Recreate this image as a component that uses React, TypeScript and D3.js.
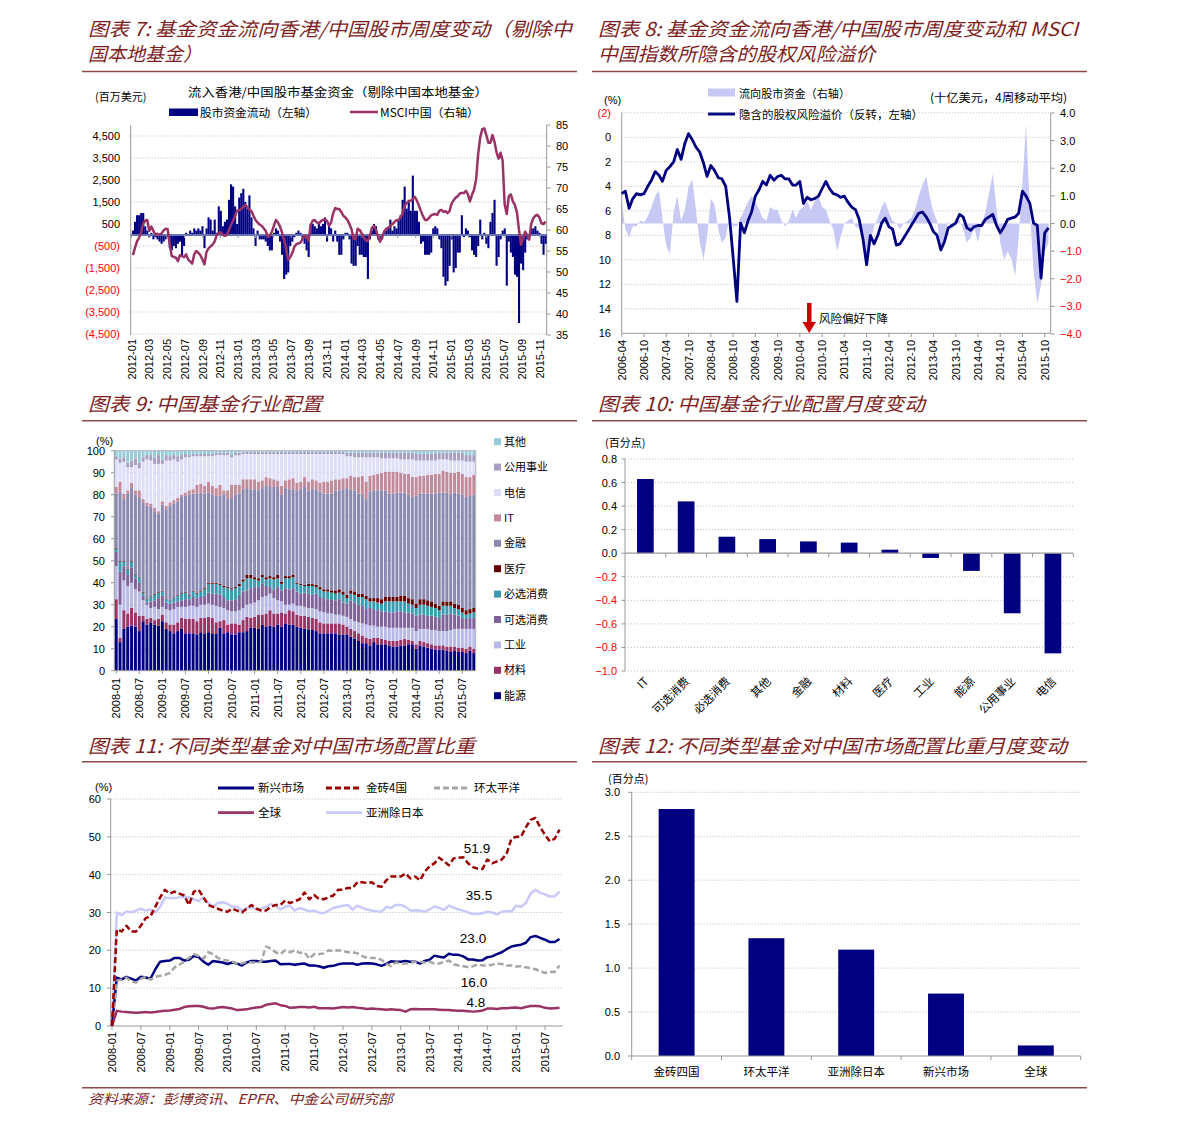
import React from 'react';
import * as d3 from 'd3';

// ---------------- fonts / styles ----------------
const FONT_NUM = '"Liberation Sans", Arial, sans-serif';
const FONT_CJK = '"Noto Sans CJK SC", "Noto Sans", sans-serif';
const TITLE_COLOR = '#7d1e1e';
const RULE_COLOR = '#8c4a4a';
const GRID = '#a8a8a8';
const AXIS = '#999999';
const NEG = '#ff0000';

// ---------------- Panel 7 data (weekly, from 2012-01-06) ----------------
const P7_FLOWS = [
  200, 600, 900, 900, 1000, 1000, 400, 200, -100, 100,
  -200, -100, -200, -300, -400, -300, -200, -100, -600, -700,
  -500, -600, -400, -300, -1000, -500, 100, 0, 200, 100,
  300, 200, 300, 200, 400, -600, 300, 800, 700, 200,
  700, 100, 1300, 1100, 400, 600, 700, 1600, 2300, 2200,
  1300, 500, 1700, 1900, 2100, 1500, 1200, 1800, 800, 300,
  -500, 200, -200, -200, -200, -300, -500, -700, -700, 100,
  300, 200, -300, -900, -2000, -1800, -1700, -500, -300, -100,
  100, 200, 100, -200, -400, -700, -1000, 500, 500, 400,
  300, 500, 400, 500, 800, -300, 400, 300, -300, 200,
  -300,
  -900, -900, -200, 100, 100, -200, -1300, -1400, -1400, -500,
  -900, -900, -1000, -1000, -2000, -200, 200, 500, 400, -200,
  -300, -200, 200, 200, 300, 700, 200, 400, 300, 700,
  900, 1600, 2200, 1200, 1600, 1100, 2700, 1100, 1100, 600,
  -400, -300, -900, -900, -900, -800, 300, 400, 300, -200,
  -600, -1900, -2300, -2100, -1400, -200, -1700, -1500, -800, -800,
  900, -100, 300, 200, -100, -700, -900, -1000, -500, 700,
  -200, 100, -400, -600, 600, 1000, 1600, -1400, -1000, -200,
  200, 300, -2300, -300, -800, -1000, -1800, -1900, -4000, -1300,
  -1600, -800, -200, -100, 300, 300, 400, 200, 100, -400,
  -900, -400,
];
const P7_MSCI = [
  54.0, 55.8, 57.3, 58.2, 59.5, 61.5, 62.2, 62.4, 59.8, 60.8,
  59.8, 58.9, 59.1, 58.8, 59.2, 59.9, 60.3, 60.2, 56.5, 53.8,
  53.6, 53.4, 52.6, 54.0, 53.8, 53.5, 54.2, 53.0, 52.5, 52.0,
  54.2, 55.0, 54.6, 54.0, 53.0, 51.8, 54.8, 55.6, 56.1, 56.5,
  57.3, 58.8, 59.3, 59.5, 58.8, 58.6, 58.8, 60.0, 61.2, 62.2,
  63.4, 64.6, 64.7, 65.0, 65.5, 66.0, 65.4, 64.8, 64.5, 63.4,
  62.4, 61.8, 61.3, 61.0, 60.4, 59.8, 58.4, 58.6, 59.6, 61.0,
  62.4, 61.8, 60.8, 59.4, 57.6, 55.5, 52.9, 53.5, 54.5, 56.0,
  56.6, 56.8, 57.0, 57.8, 58.6, 58.4, 57.4, 61.2, 62.2, 62.4,
  61.8, 61.6, 62.1, 62.4, 62.5, 62.2, 61.0, 61.8, 64.0, 65.2,
  65.0,
  65.0, 64.3, 63.4, 63.0, 62.4, 61.4, 60.2, 58.0, 57.8, 60.3,
  60.0, 59.2, 58.3, 57.5, 57.4, 58.6, 60.5, 61.0, 60.0, 58.4,
  57.2, 58.4, 59.6, 60.3, 60.6, 60.9, 61.4, 61.9, 62.3, 62.4,
  63.0, 64.0, 65.8, 66.4, 66.8, 67.0, 67.4, 67.9, 67.0, 65.8,
  64.5, 63.3, 62.4, 62.4, 62.9, 63.5, 63.7, 63.8, 63.6, 64.6,
  64.8, 64.3, 64.5, 64.0, 64.5, 66.3, 67.1, 67.7, 68.0, 68.7,
  68.8, 68.8, 69.3, 68.5, 66.8, 68.4, 69.6, 72.0, 78.0, 82.0,
  84.0, 84.2, 82.6, 80.8, 80.8, 82.6, 81.0, 78.5, 77.0, 78.4,
  76.5, 66.0, 63.8, 68.0, 68.5, 66.8, 66.0, 64.2, 60.0, 56.5,
  58.0, 59.6, 58.8, 57.7, 61.5, 62.8, 63.4, 63.6, 63.0, 61.6,
  61.4, 62.0,
];
const P7_LEFT_TICKS = [4500, 3500, 2500, 1500, 500, -500, -1500, -2500, -3500, -4500];
const P7_RIGHT_TICKS = [85, 80, 75, 70, 65, 60, 55, 50, 45, 40, 35];

// ---------------- Panel 8 data (monthly, from 2006-04) ----------------
const P8_PREMIUM = [
  4.6, 4.4, 5.8, 5.0, 4.6, 4.7, 4.6, 4.0, 3.5, 2.8,
  3.1, 3.6, 2.7, 2.4, 2.0, 1.0, 1.8, 0.5, -0.3, 0.2,
  0.8, 1.2, 2.1, 3.2, 2.3, 2.7, 3.3, 3.4, 4.0, 6.5,
  9.8, 13.4, 7.0, 7.8, 6.8, 6.1, 4.8, 4.3, 3.6, 3.9,
  3.1, 3.5, 3.2, 3.1, 3.4, 3.4, 3.9, 3.9, 3.6, 5.4,
  4.9, 5.1, 5.0, 4.8, 4.2, 3.6, 4.2, 4.6, 4.7, 4.9,
  4.8, 5.3, 5.7, 5.9, 6.7, 8.3, 10.4, 8.0, 8.7, 8.0,
  7.0, 6.6, 7.3, 7.5, 8.8, 8.7, 8.2, 7.7, 7.2, 6.7,
  6.2, 6.1, 6.5, 7.0, 7.7, 8.0, 9.2, 8.5, 7.4, 7.2,
  7.0, 6.3, 6.5, 7.4, 7.6, 7.3, 7.2, 7.2, 6.7, 6.5,
  6.3, 7.2, 7.8, 7.3, 6.7, 6.6, 6.5, 6.2, 4.4, 4.8,
  5.4, 7.0, 7.2, 11.5, 7.8, 7.4,
];
const P8_FLOWS = [
  0.8, -0.2, -0.5, -0.1, -0.1, 0.1, 0.05, 0.25, 0.6, 1.0,
  1.2, 0.2, -0.8, -1.1, 0.4, 1.0, 0.1, 0.5, 1.3, 1.6,
  0.5, -0.7, -1.3, -0.5, 0.9, 0.7, -0.2, -0.7, -0.5, 0.2,
  -0.1, -0.1, 0.2, 0.5, 0.8, 1.0, 0.8, 0.5, 0.2, 0.1,
  0.6, 0.5, 0.5, 0.1, -0.1, 0.1, 0.5, 0.2, 0.5, 0.6,
  0.8, 0.5, 0.8, 1.0, 0.6, 0.5, 0.1, -0.2, -1.0, -0.5,
  0.0, 0.1, 0.2, -0.1, -0.2, -0.5, -1.1, -0.7, -0.1, 0.2,
  0.6, 0.8, 0.4, 0.1, 0.0, -0.2, 0.0, 0.1, 0.2, 0.5,
  1.0, 1.4, 1.7, 1.0, 0.4, 0.1, -1.0, -0.5, 0.1, -0.2,
  0.2, 0.1, -0.2, -0.7, -0.5, -0.1, -0.7, 0.0, 0.4, 1.1,
  1.8, 0.5, -0.7, -1.3, -1.0, -1.3, -1.9, -0.5, 1.4, 3.6,
  0.5, -1.7, -2.9, -2.2, -1.0, -0.7,
];
const P8_LEFT_TICKS = [-2, 0, 2, 4, 6, 8, 10, 12, 14, 16];
const P8_RIGHT_TICKS = [4, 3, 2, 1, 0, -1, -2, -3, -4];

// ---------------- Panel 9 data (monthly, 2008-01 .. 2015-10) ----------------
const P9_ENERGY = [23.5,13,19,20,20.5,20,18,22.5,21,22, 21,20.5,22.5,19,18,17,18,19,17,17, 17,16.5,17.5,17,17.5,17,17,19.5,17,17.5, 16.5,16.5,17.5,17.5,18,19.5,19.5,19,21,20, 20.5,20,21,20,21.5,21,21,20,19.5,19, 18.5,18.5,18,17,17,17,17,17,16.5,16.5, 16.5,15.5,14.5,13.5,12.5,12.5,11.5,13,12,12, 12,11.5,11,11,11.5,11.5,12,12,10,11.5, 11,10.5,10,9.5,9.5,9.5,9,8.5,9,8.5, 8.5,8,9,8];
const P9_MATERIALS = [9,2,8.5,6,8,6.5,7,2.5,2.5,2, 2,3,3,3,3,4,4,5,6.5,6.5, 6.5,6,6.5,7,7,7,5,3,6,3.5, 5,5,3.5,5.5,6.5,4.5,5,6.5,4.5,6, 7,6,5,6.5,4.5,6.5,6,5.5,5.5,6, 6,5.5,5.5,5,4.5,4.5,4.5,4.5,5,4.5, 3.5,3.5,3.5,3.5,3.5,2.5,3,2,3,2.5, 2,2,2.5,2.5,2.5,3,2,1.5,2,2, 2,2,2,2,2,2,2,2.5,2,2, 2,2,2,2];
const P9_INDUSTRIALS = [15,15,13.5,12.5,11.5,10.5,11,7,6.5,4.5, 6,4.5,3.5,6,6.5,7,7,5,5.5,6, 6,6.5,6,6,6,6,7.5,6.5,5.5,6.5, 5.5,5.5,6.5,5.5,5.5,6.5,6.5,6.5,8,8, 7.5,7,6,5,4,2.5,3.5,4,4.5,4, 4,4.5,4.5,5,5,4.5,4.5,4,4,4, 4.5,4.5,4.5,5,5.5,6,6,5.5,5,5.5, 6,6,6,6,5.5,5,5.5,6,6,5.5, 6,6.5,6.5,7,6.5,6.5,7,7.5,8,8.5, 8.5,9,8,9];
const P9_DISCRETIONARY = [6.5,15,6.5,5,7,5,4,2,1,3, 3,5,5,3,3,3,2.5,3,3.5,3, 4,4,3.5,4,5,5,5.5,5.5,5,4.5, 5,5.5,7,7.5,6.5,7,7,6,6,4.5, 3,4,6,5,7.5,7,7,6.5,5.5,6.5, 6.5,6,7,6.5,6.5,6.5,6.5,6.5,7,6, 6,8.5,8.5,8,8,7,8,7.5,7.5,7, 7,7,7,7.5,7.5,7,7,6.5,7,6.5, 6.5,6,6.5,6,6,7.5,7.5,7.5,6.5,6, 5,4.5,5,5];
const P9_STAPLES = [1.5,4.5,2,2.5,2.5,1.5,2.5,1.5,1.5,2, 2.5,2.5,2,1.5,1.5,2,2.5,3,3,1.5, 2.5,2,2.5,3,4,4.5,4.5,4.5,4.5,5.5, 5,5,4,4.5,5.5,4.5,3.5,3,3,3, 4,4.5,4,3,4.5,5,5,3.5,4,3, 3.5,4,3,3.5,3,3.5,3,3,3,3.5, 2.5,3,3.5,3.5,4,4.5,3,3.5,3.5,3.5, 4.5,5,5,4.5,4.5,5,4,4,3.5,4.5, 4.5,4.5,4,4,3.5,4,4,3.5,3,3, 2.5,2,2,2.5];
const P9_HEALTH = [0.3,0.3,0.3,0.3,0.3,0.3,0.3,0.3,0.3,0.3, 0.3,0.3,0.3,0.3,0.3,0.3,0.3,0.3,0.3,0.3, 0.3,0.5,0.5,0.5,0.5,0.5,0.5,0.5,0.5,0.5, 0.5,0.5,1,1,1.5,1.5,1,1,1,1, 1,1,1.5,1,1,1,1,0.5,0.5,0.5, 1,1,1,1,1,1,1,1.5,1.5,1.5, 1.5,1.5,1.5,1.5,1.5,1.5,1.5,1.5,2,2, 2,2,2,2,2.5,2.5,2.5,2.5,2,2.5, 2.5,2.5,2.5,2,2,2,2,2,2,2, 2,2,2,2];
const P9_FINANCIALS = [24.7,31.7,28.2,34.2,33.2,36.2,35.7,40.7,42.2,40.7, 37.7,35.7,39.2,40.2,42.7,42.7,42.7,43.7,43.7,45.7, 44.2,45,44.5,43,41,40,39.5,40,41.5,40, 41,42,41,41,39.5,39,40,40,39.5,41.5, 40.5,41,40,39.5,40,39.5,39,42,43,44.5, 42.5,43,43.5,43.5,43.5,43.5,44,45.5,45,46.5, 48.5,46,46,45.5,45,44,48.5,49,49,49.5, 48.5,47,47,47.5,47,47,47,46.5,49,48, 48,48.5,49,50,51.5,49.5,49.5,49,50.5,50.5, 51.5,51.5,51.5,51.5];
const P9_IT = [3,4.5,2.5,1.5,2.5,2,3.5,1.5,1.5,1.5, 1.5,1,1.5,2,1.5,1.5,1.5,1,1.5,2, 2,4,4,3.5,5,4,3.5,5,2,4, 6,4.5,4,4.5,4,4.5,4.5,4,3.5,4, 4,3.5,3,4,3.5,4.5,5,3.5,3.5,4.5, 4,4.5,4,4,5.5,5.5,6,5,5,5, 4.5,6,6,7.5,8.5,8,7,7,7.5,8, 8.5,10,10,9.5,9,8.5,9.5,9,8.5,8, 8,8.5,8.5,9,8.5,10,9.5,9.5,9,10, 9.5,9,8.5,9];
const P9_TELECOM = [12.5,8.5,14.5,10.5,7,11.5,10,17,19.5,19.5, 20,21.5,17,20.5,19,18.5,16.5,16,16,15, 15,13,12.5,13.5,11.5,13.5,15,13.5,16,16, 12.5,13.5,13.5,11.5,11.5,11.5,11.5,12.5,12,10.5, 11,11.5,12,14.5,12,11.5,11,13,12.5,10.5, 12.5,11.5,12,13,12.5,12.5,12,11.5,11.5,11, 10,9,9,9,8.5,11,8.5,8,7.5,6.5, 6,6,6,6,6,6.5,6.5,8,7.5,7, 7,6.5,6.5,6,6.5,5,5.5,5.5,5.5,5, 6,7,7,6];
const P9_UTILITIES = [1.5,2,2,2,3,3,2.5,2,2,2.5, 3,4,2,2.5,2,2,2.5,2,1.5,1, 1,1,1,1,1,1,1,1,1,1, 1,1,1,1,1,1,1,1,1,1, 1,1,1,1,1,1,1,1,1,1, 1,1,1,1,1,1,1,1,1,1, 1.5,1.5,2,2,2,2,2,2,2,2.5, 2.5,2.5,2.5,2.5,3,3,3,3,3,3, 3,3,3,3,3,3,3,3.5,3.5,3.5, 3.5,3,3,3];
const P9_OTHER = [2.5,3.5,3,5.5,4.5,3.5,5.5,3,2,2, 3,2,4,2,2.5,2,2.5,2,1.5,2, 1.5,1.5,1.5,1.5,1.5,1.5,1,1,1,1, 2,1,1,0.5,0.5,0.5,0.5,0.5,0.5,0.5, 0.5,0.5,0.5,0.5,0.5,0.5,0.5,0.5,0.5,0.5, 0.5,0.5,0.5,0.5,0.5,0.5,0.5,0.5,0.5,0.5, 1,1,1,1,1,1,1,1,1,1, 1,1,1,1,1,1,1,1,1.5,1.5, 1.5,1.5,1.5,1.5,1,1,1,1,1,1, 1,2,2,2];
const P9_SECTORS = ['能源', '材料', '工业', '可选消费', '必选消费', '医疗', '金融', 'IT', '电信', '公用事业', '其他'];
const P9_SERIES = [P9_ENERGY, P9_MATERIALS, P9_INDUSTRIALS, P9_DISCRETIONARY, P9_STAPLES, P9_HEALTH, P9_FINANCIALS, P9_IT, P9_TELECOM, P9_UTILITIES, P9_OTHER];
const P9_COLORS = ['#000080', '#993366', '#b9b9e9', '#7e6299', '#3a9ab0', '#660000', '#8989b1', '#c08a9b', '#dedefa', '#a99fc3', '#96ccda'];
const P9_Y_TICKS = [0, 10, 20, 30, 40, 50, 60, 70, 80, 90, 100];

// ---------------- Panel 10 data ----------------
const P10_CATEGORIES = ['IT', '可选消费', '必选消费', '其他', '金融', '材料', '医疗', '工业', '能源', '公用事业', '电信'];
const P10_VALUES = [0.63, 0.44, 0.14, 0.12, 0.10, 0.09, 0.03, -0.04, -0.15, -0.51, -0.85];
const P10_TICKS = [0.8, 0.6, 0.4, 0.2, 0, -0.2, -0.4, -0.6, -0.8, -1.0];

// ---------------- Panel 11 data (monthly, 2008-01 .. 2015-10) ----------------
const P11_EM = [0,12.8,12.3,13,12.5,12,13,12.8,12.5,15, 17,17.2,17.3,18,18,17.3,17.5,18.5,18.2,17, 16.2,17.2,17,16.8,16.4,16.8,16.5,16,16.8,17.2, 17.2,17,17,17.2,17.3,16.3,16.4,16.4,16.2,16.4, 16.5,16,16,15.8,15.4,15.8,15.9,16.3,16.5,16.5, 16.5,16.2,16.5,16.6,16.5,16.3,15.9,16.4,17.1,17, 17,17.2,17,17,16.5,17.2,17.5,18.6,18.3,18.1, 19.1,18.8,18.8,18.4,17.6,17.6,17.3,17.4,18.2,18.4, 19,19.5,20.3,21,21.3,21.5,22,23.5,23.8,23.3, 22.8,22.2,22.2,23];
const P11_BRIC = [0,25.5,25,26.5,25,25,26.5,28.5,29,31.5, 34,36,35,35.5,35,34.5,32,35.5,36,34, 32,31.5,31,30.5,30.2,31,30.5,30,31,32, 31,30.5,30.5,31.5,32,32,33.2,32.5,33,33.5, 35.3,33.5,34.6,33.6,33.5,34,34.5,36,36,36.5, 36.5,38,38,37.8,38,37,36.8,38.5,39.5,39.5, 39.5,40.3,39,39.5,38.5,40.8,42.2,43,44.5,43.5, 42.5,44.3,44.5,44.6,43,42,41.6,41.5,44,43, 43.5,44,45.5,49.5,50,50,52.5,54.5,55,52.5, 50.5,48.8,49.5,51.9];
const P11_PACIFIC = [0,12,12.3,12.8,11.8,11.5,12.5,13,12.2,13, 13.3,13.5,14,15.5,16.2,17,18,19,18.5,17.8, 19.5,19,18,17.5,17.3,17,16.5,16.5,17,16.8, 16.8,17,21,20.5,19.5,19,20,19.5,20,19.3, 19.5,17.8,19,19,19.2,20,19.8,20,19.8,19.5, 19.5,19.2,18.5,18,18,18,17.5,16.5,15.8,16.8, 16.5,16.5,16.7,17,17,16.8,17,16.5,16.5,17, 17.3,16.3,16,15.8,15.6,15.8,16.3,16,16,16.2, 16.5,16.4,16,16,15.7,15.8,15.5,15.3,15,14.5, 14,14.3,14.3,16];
const P11_GLOBAL = [0,4,3.8,3.7,3.6,3.5,3.6,3.7,3.6,3.7, 3.9,4,4.1,4.3,4.5,5,5.2,5.3,5.3,5.1, 4.7,4.6,4.9,5,4.8,4.6,4.2,4.3,4.4,4.7, 4.9,5,5.6,5.8,6,5.5,5.3,4.8,4.9,5, 5,4.9,5.1,4.7,4.7,4.7,4.6,4.8,5,4.9, 5,4.8,4.7,4.5,4.6,4.5,4.4,4.3,4.4,4.3, 4.2,3.8,4.4,4.5,4.4,4.4,4.4,4.4,4.3,4.2, 4.2,4.1,4,4,3.9,3.8,3.9,4.1,4.6,4.6, 4.5,4.7,4.7,4.8,4.9,4.7,5,5.3,5.3,5.2, 4.8,4.6,4.7,4.8];
const P11_ASIA_EXJ = [0,30,29.3,30.3,30,30.5,31,30.5,30.8,30, 31.5,34,33.8,33.8,34,34,34,33.5,33,34, 32.5,31.5,32.5,32.7,32.3,31.5,31.5,30.5,31.2,31.3, 31,31,31.5,32.2,31.8,30.8,31.5,31.8,30.5,31.2, 30.8,30.3,30.5,30,29.8,30.5,31.2,31.5,31.8,32, 30.8,31.8,31.2,30.8,30.5,30.3,30.2,31.5,31.2,32, 32,31.5,30.5,30.5,30.5,30.2,30.8,31.6,31.2,30.7, 31.8,31.3,30.8,30.5,30,29.6,29.6,29.8,30.2,30, 29.5,30.2,30.3,30.3,31.8,31.5,32.5,35,36,35.2, 34.8,34.2,34.3,35.5];
const P11_Y_TICKS = [0, 10, 20, 30, 40, 50, 60];

// ---------------- Panel 12 data ----------------
const P12_CATEGORIES = ['金砖四国', '环太平洋', '亚洲除日本', '新兴市场', '全球'];
const P12_VALUES = [2.81, 1.34, 1.21, 0.71, 0.12];
const P12_TICKS = [0, 0.5, 1.0, 1.5, 2.0, 2.5, 3.0];

// ---------------- helpers ----------------
const fmtYM = d3.timeFormat('%Y-%m');

function Grid({ x1, x2, ys }: { x1: number; x2: number; ys: number[] }) {
  return (
    <g>
      {ys.map((y, i) => (
        <line key={i} x1={x1} x2={x2} y1={y} y2={y} stroke={GRID} strokeWidth={0.8} strokeDasharray="1 2" />
      ))}
    </g>
  );
}

function RotLabel({ x, y, text }: { x: number; y: number; text: string }) {
  return (
    <text transform={`translate(${x},${y}) rotate(-90)`} textAnchor="end" fontSize={11} fontFamily={FONT_NUM} fill="#000">
      {text}
    </text>
  );
}

function TitleLine({ x, y, text, width }: { x: number; y: number; text: string; width?: number }) {
  return (
    <text x={x} y={y} fontSize={19} fontStyle="italic" fontFamily={FONT_CJK} fill={TITLE_COLOR}
      textLength={width} lengthAdjust={width ? 'spacingAndGlyphs' : undefined}>
      {text}
    </text>
  );
}

function Rule({ x1, x2, y }: { x1: number; x2: number; y: number }) {
  return <line x1={x1} x2={x2} y1={y} y2={y} stroke={RULE_COLOR} strokeWidth={1.5} />;
}

// ---------------- Panel 7 ----------------
function Panel7() {
  const x = d3.scaleTime().domain([new Date(2012, 0, 1), new Date(2015, 10, 25)]).range([131.5, 547]);
  const yL = d3.scaleLinear().domain([-4500, 4500]).range([334, 136]);
  const yR = d3.scaleLinear().domain([35, 85]).range([335, 125]);
  const start = new Date(2012, 0, 6);
  const dates = P7_FLOWS.map((_, i) => d3.timeDay.offset(start, 7 * i));
  const months = d3.range(0, 47, 2).map((m) => d3.timeMonth.offset(new Date(2012, 0, 1), m));
  const fmt = d3.format(',');
  const line = d3.line<number>().x((_, i) => x(dates[i])).y((d) => yR(d));
  const left = 130.7, right = 546.7, top = 125, bottom = 335;
  return (
    <g>
      <text x={95} y={101} fontSize={11} fontFamily={FONT_CJK}>(百万美元)</text>
      <text x={188} y={97} fontSize={12} fontFamily={FONT_CJK} textLength={300} lengthAdjust="spacingAndGlyphs">流入香港/中国股市基金资金（剔除中国本地基金）</text>
      <rect x={169} y={108.5} width={29} height={7.5} fill="#000080" />
      <text x={200} y={116.5} fontSize={11.5} fontFamily={FONT_CJK} textLength={117} lengthAdjust="spacingAndGlyphs">股市资金流动（左轴）</text>
      <line x1={350} x2={378} y1={112} y2={112} stroke="#993366" strokeWidth={2.5} />
      <text x={380} y={116.5} fontSize={11.5} fontFamily={FONT_CJK} textLength={99} lengthAdjust="spacingAndGlyphs">MSCI中国（右轴）</text>

      <Grid x1={left} x2={right} ys={P7_LEFT_TICKS.map((v) => yL(v))} />
      <line x1={left} x2={left} y1={top} y2={bottom} stroke={AXIS} strokeWidth={1} />
      <line x1={right} x2={right} y1={top} y2={bottom} stroke={AXIS} strokeWidth={1} />
      {P7_RIGHT_TICKS.map((v) => (
        <g key={v}>
          <line x1={right} x2={right + 4} y1={yR(v)} y2={yR(v)} stroke={AXIS} />
          <text x={556} y={yR(v) + 4} fontSize={11} fontFamily={FONT_NUM}>{v}</text>
        </g>
      ))}
      {P7_LEFT_TICKS.map((v) => (
        <text key={v} x={120} y={yL(v) + 4} fontSize={11} fontFamily={FONT_NUM} textAnchor="end" fill={v < 0 ? NEG : '#000'}>
          {v < 0 ? `(${fmt(-v)})` : fmt(v)}
        </text>
      ))}
      {P7_FLOWS.map((v, i) => {
        const y0 = yL(Math.max(v, 0));
        const y1 = yL(Math.min(v, 0));
        return <rect key={i} x={x(dates[i]) - 1} y={y0} width={2.1} height={Math.max(0.5, y1 - y0)} fill="#000080" />;
      })}
      <line x1={left} x2={right} y1={yL(0)} y2={yL(0)} stroke="#6673b5" strokeWidth={1.8} />
      {months.map((d, i) => (
        <line key={i} x1={x(d)} x2={x(d)} y1={yL(0)} y2={yL(0) + 3} stroke={AXIS} />
      ))}
      <path d={line(P7_MSCI) || ''} fill="none" stroke="#993366" strokeWidth={2.5} strokeLinejoin="round" />
      {months.map((d, i) => (
        <RotLabel key={i} x={x(d) + 4} y={339} text={fmtYM(d)} />
      ))}
    </g>
  );
}

// ---------------- Panel 8 ----------------
function Panel8() {
  const x = d3.scaleTime().domain([new Date(2006, 3, 1), new Date(2015, 10, 19)]).range([621.7, 1050.7]);
  const yL = d3.scaleLinear().domain([-2, 16]).range([112.8, 333.3]);
  const yR = d3.scaleLinear().domain([-4, 4]).range([334, 113]);
  const dates = P8_PREMIUM.map((_, i) => d3.timeMonth.offset(new Date(2006, 3, 1), i));
  const ticks = d3.range(0, 115, 6).map((m) => d3.timeMonth.offset(new Date(2006, 3, 1), m));
  const area = d3.area<number>().x((_, i) => x(dates[i])).y0(yR(0)).y1((d) => yR(d));
  const line = d3.line<number>().x((_, i) => x(dates[i])).y((d) => yL(d));
  const left = 621.7, right = 1050.7;
  return (
    <g>
      <text x={604} y={104} fontSize={11} fontFamily={FONT_NUM}>(%)</text>
      <rect x={708} y={88.5} width={27} height={8} fill="#c8c8f4" />
      <text x={739} y={97.5} fontSize={11.5} fontFamily={FONT_CJK} textLength={111} lengthAdjust="spacingAndGlyphs">流向股市资金（右轴）</text>
      <line x1={708} x2={735} y1={114} y2={114} stroke="#000080" strokeWidth={3} />
      <text x={739} y={118.5} fontSize={11.5} fontFamily={FONT_CJK} textLength={184} lengthAdjust="spacingAndGlyphs">隐含的股权风险溢价（反转，左轴）</text>
      <text x={930} y={102} fontSize={11.5} fontFamily={FONT_CJK} textLength={137} lengthAdjust="spacingAndGlyphs">(十亿美元，4周移动平均)</text>

      <Grid x1={left} x2={right} ys={P8_LEFT_TICKS.slice(0, -1).map((v) => yL(v))} />
      <path d={area(P8_FLOWS) || ''} fill="#c8c8f4" stroke="none" />
      <line x1={left} x2={left} y1={112.8} y2={333.3} stroke={AXIS} />
      <line x1={right} x2={right} y1={112.8} y2={333.3} stroke={AXIS} />
      <line x1={left} x2={right} y1={333.3} y2={333.3} stroke={AXIS} />
      {ticks.map((d, i) => (
        <line key={i} x1={x(d)} x2={x(d)} y1={333.3} y2={337} stroke={AXIS} />
      ))}
      {P8_LEFT_TICKS.map((v) => (
        <text key={v} x={611} y={yL(v) + 4} fontSize={11} fontFamily={FONT_NUM} textAnchor="end" fill={v < 0 ? NEG : '#000'}>
          {v < 0 ? `(${-v})` : v}
        </text>
      ))}
      {P8_RIGHT_TICKS.map((v) => (
        <g key={v}>
          <line x1={right} x2={right + 4} y1={yR(v)} y2={yR(v)} stroke={AXIS} />
          <text x={1060} y={yR(v) + 4} fontSize={11} fontFamily={FONT_NUM} fill={v < 0 ? NEG : '#000'}>
            {d3.format('.1f')(v)}
          </text>
        </g>
      ))}
      <path d={line(P8_PREMIUM) || ''} fill="none" stroke="#000080" strokeWidth={2.8} strokeLinejoin="round" />
      <rect x={807} y={303} width={4.5} height={20} fill="#cc0000" />
      <path d="M802.5,322 L816,322 L809.2,333 Z" fill="#cc0000" />
      <text x={819} y={323} fontSize={11.5} fontFamily={FONT_CJK}>风险偏好下降</text>
      {ticks.map((d, i) => (
        <RotLabel key={i} x={x(d) + 4} y={340} text={fmtYM(d)} />
      ))}
    </g>
  );
}

// ---------------- Panel 9 ----------------
function Panel9() {
  const n = P9_ENERGY.length;
  const idx = d3.range(n);
  const x = d3.scaleBand<number>().domain(idx).range([114.3, 475.7]).paddingInner(0.22).paddingOuter(0.1);
  const y = d3.scaleLinear().domain([0, 100]).range([670.7, 450.7]);
  const table = idx.map((i) => {
    const row: Record<string, number> = {};
    P9_SECTORS.forEach((s, k) => (row[s] = P9_SERIES[k][i]));
    return row;
  });
  const stacked = d3.stack<Record<string, number>>().keys(P9_SECTORS)(table);
  const tickIdx = d3.range(0, n, 6);
  const legendOrder = [...P9_SECTORS].reverse();
  return (
    <g>
      <text x={96} y={445} fontSize={11} fontFamily={FONT_NUM}>(%)</text>
      <Grid x1={114.3} x2={475.7} ys={P9_Y_TICKS.slice(1).map((v) => y(v))} />
      {stacked.map((layer, k) => (
        <g key={k} fill={P9_COLORS[k]}>
          {layer.map((d, i) => (
            <rect key={i} x={x(i)} width={x.bandwidth()} y={y(d[1])} height={Math.max(0, y(d[0]) - y(d[1]))} />
          ))}
        </g>
      ))}
      <line x1={114.3} x2={475.7} y1={450.7} y2={450.7} stroke="#b5b5b5" />
      <line x1={475.7} x2={475.7} y1={450.7} y2={670.7} stroke="#b5b5b5" />
      <line x1={114.3} x2={114.3} y1={450.7} y2={670.7} stroke={AXIS} />
      <line x1={114.3} x2={475.7} y1={670.7} y2={670.7} stroke={AXIS} />
      {P9_Y_TICKS.map((v) => (
        <g key={v}>
          <line x1={111} x2={114.3} y1={y(v)} y2={y(v)} stroke={AXIS} />
          <text x={105} y={y(v) + 4} fontSize={11} fontFamily={FONT_NUM} textAnchor="end">{v}</text>
        </g>
      ))}
      {tickIdx.map((i) => {
        const cx = (x(i) as number) + x.bandwidth() / 2;
        return (
          <g key={i}>
            <line x1={cx} x2={cx} y1={670.7} y2={674} stroke={AXIS} />
            <RotLabel x={cx + 4} y={678} text={fmtYM(d3.timeMonth.offset(new Date(2008, 0, 1), i))} />
          </g>
        );
      })}
      {legendOrder.map((s, j) => {
        const k = P9_SECTORS.indexOf(s);
        const cy = 441.7 + j * 25.4;
        return (
          <g key={s}>
            <rect x={494} y={cy - 3.5} width={7} height={7} fill={P9_COLORS[k]} />
            <text x={504} y={cy + 4} fontSize={11} fontFamily={FONT_CJK}>{s}</text>
          </g>
        );
      })}
    </g>
  );
}

// ---------------- Panel 10 ----------------
function Panel10() {
  const x = d3.scaleBand<string>().domain(P10_CATEGORIES).range([625, 1073.3]);
  const y = d3.scaleLinear().domain([-1.0, 0.8]).range([671, 459]);
  const bw = x.bandwidth() * 0.41;
  return (
    <g>
      <text x={605} y={447} fontSize={11} fontFamily={FONT_CJK}>(百分点)</text>
      <Grid x1={625} x2={1073.3} ys={P10_TICKS.filter((v) => v !== 0).map((v) => y(v))} />
      <line x1={625} x2={625} y1={459} y2={671} stroke={AXIS} />
      {P10_TICKS.map((v) => (
        <g key={v}>
          <line x1={621.5} x2={625} y1={y(v)} y2={y(v)} stroke={AXIS} />
          <text x={617} y={y(v) + 4} fontSize={11} fontFamily={FONT_NUM} textAnchor="end" fill={v < 0 ? NEG : '#000'}>
            {d3.format('.1f')(v)}
          </text>
        </g>
      ))}
      {P10_CATEGORIES.map((c, i) => {
        const cx = (x(c) as number) + x.bandwidth() / 2;
        const v = P10_VALUES[i];
        return (
          <g key={c}>
            <rect x={cx - bw / 2} width={bw} y={y(Math.max(v, 0))} height={Math.abs(y(v) - y(0))} fill="#000080" />
            <text transform={`translate(${cx + 4},${682}) rotate(-45)`} textAnchor="end" fontSize={11.5} fontFamily={FONT_CJK}>{c}</text>
          </g>
        );
      })}
      <line x1={625} x2={1073.3} y1={y(0)} y2={y(0)} stroke={AXIS} strokeWidth={1.2} />
      {P10_CATEGORIES.map((c) => {
        const bx = (x(c) as number) + x.bandwidth();
        return <line key={c} x1={bx} x2={bx} y1={y(0)} y2={y(0) + 4} stroke={AXIS} />;
      })}
    </g>
  );
}

// ---------------- Panel 11 ----------------
function Panel11() {
  const n = P11_EM.length;
  const x = d3.scaleLinear().domain([0, n - 1]).range([112, 559.5]);
  const y = d3.scaleLinear().domain([0, 60]).range([1026, 799]);
  const line = d3.line<number>().x((_, i) => x(i)).y((d) => y(d));
  const tickIdx = d3.range(0, n, 6);
  const series = [
    { name: '亚洲除日本', data: P11_ASIA_EXJ, color: '#c9c9fb', dash: undefined },
    { name: '新兴市场', data: P11_EM, color: '#000080', dash: undefined },
    { name: '环太平洋', data: P11_PACIFIC, color: '#a6a6a6', dash: '6 3' },
    { name: '全球', data: P11_GLOBAL, color: '#993366', dash: undefined },
    { name: '金砖4国', data: P11_BRIC, color: '#990000', dash: '6 3' },
  ];
  const legend = [
    { name: '新兴市场', color: '#000080', dash: undefined, lx: 218, ly: 788 },
    { name: '金砖4国', color: '#990000', dash: '6 3', lx: 326, ly: 788 },
    { name: '环太平洋', color: '#a6a6a6', dash: '6 3', lx: 434, ly: 788 },
    { name: '全球', color: '#993366', dash: undefined, lx: 218, ly: 812.7 },
    { name: '亚洲除日本', color: '#c9c9fb', dash: undefined, lx: 326, ly: 812.7 },
  ];
  const endLabels = [
    { v: '51.9', cx: 477, cy: 853 },
    { v: '35.5', cx: 479, cy: 900 },
    { v: '23.0', cx: 473, cy: 943 },
    { v: '16.0', cx: 474, cy: 986.5 },
    { v: '4.8', cx: 476, cy: 1006.5 },
  ];
  return (
    <g>
      <text x={95} y={791} fontSize={11} fontFamily={FONT_NUM}>(%)</text>
      {legend.map((l) => (
        <g key={l.name}>
          <line x1={l.lx} x2={l.lx + 36} y1={l.ly} y2={l.ly} stroke={l.color} strokeWidth={2.8} strokeDasharray={l.dash} />
          <text x={l.lx + 40} y={l.ly + 4} fontSize={11.5} fontFamily={FONT_CJK}>{l.name}</text>
        </g>
      ))}
      <Grid x1={110.7} x2={562.7} ys={P11_Y_TICKS.slice(1).map((v) => y(v))} />
      <line x1={110.7} x2={110.7} y1={799} y2={1026} stroke={AXIS} />
      <line x1={110.7} x2={562.7} y1={1026} y2={1026} stroke={AXIS} />
      {P11_Y_TICKS.map((v) => (
        <g key={v}>
          <line x1={107} x2={110.7} y1={y(v)} y2={y(v)} stroke={AXIS} />
          <text x={101} y={y(v) + 4} fontSize={11} fontFamily={FONT_NUM} textAnchor="end">{v}</text>
        </g>
      ))}
      {series.map((s) => (
        <path key={s.name} d={line(s.data) || ''} fill="none" stroke={s.color} strokeWidth={2.5} strokeDasharray={s.dash} strokeLinejoin="round" />
      ))}
      {endLabels.map((l) => (
        <text key={l.v} x={l.cx} y={l.cy} fontSize={13.5} fontFamily={FONT_NUM} textAnchor="middle">{l.v}</text>
      ))}
      {tickIdx.map((i) => (
        <g key={i}>
          <line x1={x(i)} x2={x(i)} y1={1026} y2={1030} stroke={AXIS} />
          <RotLabel x={x(i) + 4} y={1032} text={fmtYM(d3.timeMonth.offset(new Date(2008, 0, 1), i))} />
        </g>
      ))}
    </g>
  );
}

// ---------------- Panel 12 ----------------
function Panel12() {
  const x = d3.scaleBand<string>().domain(P12_CATEGORIES).range([631.7, 1080.7]);
  const y = d3.scaleLinear().domain([0, 3]).range([1056, 792.3]);
  const bw = x.bandwidth() * 0.4;
  return (
    <g>
      <text x={608} y={783} fontSize={11} fontFamily={FONT_CJK}>(百分点)</text>
      <Grid x1={631.7} x2={1080.7} ys={P12_TICKS.slice(1).map((v) => y(v))} />
      <line x1={631.7} x2={631.7} y1={792.3} y2={1056} stroke={AXIS} />
      {P12_TICKS.map((v) => (
        <g key={v}>
          <line x1={628} x2={631.7} y1={y(v)} y2={y(v)} stroke={AXIS} />
          <text x={620} y={y(v) + 4} fontSize={11} fontFamily={FONT_NUM} textAnchor="end">{d3.format('.1f')(v)}</text>
        </g>
      ))}
      {P12_CATEGORIES.map((c, i) => {
        const cx = (x(c) as number) + x.bandwidth() / 2;
        return (
          <g key={c}>
            <rect x={cx - bw / 2} width={bw} y={y(P12_VALUES[i])} height={y(0) - y(P12_VALUES[i])} fill="#000080" />
            <text x={cx} y={1076} fontSize={11.5} fontFamily={FONT_CJK} textAnchor="middle">{c}</text>
          </g>
        );
      })}
      <line x1={631.7} x2={1080.7} y1={1056} y2={1056} stroke={AXIS} strokeWidth={1.2} />
      {[631.7, ...P12_CATEGORIES.map((c) => (x(c) as number) + x.bandwidth())].map((bx, i) => (
        <line key={i} x1={bx} x2={bx} y1={1056} y2={1060} stroke={AXIS} />
      ))}
    </g>
  );
}

export default function App() {
  return (
    <svg width={1191} height={1128} style={{ position: 'absolute', left: 0, top: 0, display: 'block' }} xmlns="http://www.w3.org/2000/svg">
      <rect x={0} y={0} width={1191} height={1128} fill="#ffffff" />
      <TitleLine x={88} y={36} text="图表 7:  基金资金流向香港/中国股市周度变动（剔除中" width={484} />
      <TitleLine x={88} y={61} text="国本地基金）" />
      <Rule x1={82} x2={577} y={71.5} />
      <TitleLine x={598} y={36} text="图表 8:  基金资金流向香港/中国股市周度变动和 MSCI" width={480} />
      <TitleLine x={598} y={61} text="中国指数所隐含的股权风险溢价" width={277} />
      <Rule x1={592} x2={1087} y={71.5} />
      <TitleLine x={88} y={411} text="图表 9:  中国基金行业配置" width={234} />
      <Rule x1={82} x2={577} y={420.7} />
      <TitleLine x={598} y={411} text="图表 10:  中国基金行业配置月度变动" width={327} />
      <Rule x1={592} x2={1087} y={420.7} />
      <TitleLine x={88} y={753} text="图表 11:  不同类型基金对中国市场配置比重" width={387} />
      <Rule x1={82} x2={577} y={761.7} />
      <TitleLine x={598} y={753} text="图表 12:  不同类型基金对中国市场配置比重月度变动" width={469} />
      <Rule x1={592} x2={1087} y={761.7} />
      <Panel7 />
      <Panel8 />
      <Panel9 />
      <Panel10 />
      <Panel11 />
      <Panel12 />
      <Rule x1={82} x2={1087} y={1087.7} />
      <text x={88} y={1104} fontSize={13.5} fontStyle="italic" fontFamily={FONT_CJK} fill={TITLE_COLOR} textLength={305} lengthAdjust="spacingAndGlyphs">
        资料来源：彭博资讯、EPFR、中金公司研究部
      </text>
    </svg>
  );
}
